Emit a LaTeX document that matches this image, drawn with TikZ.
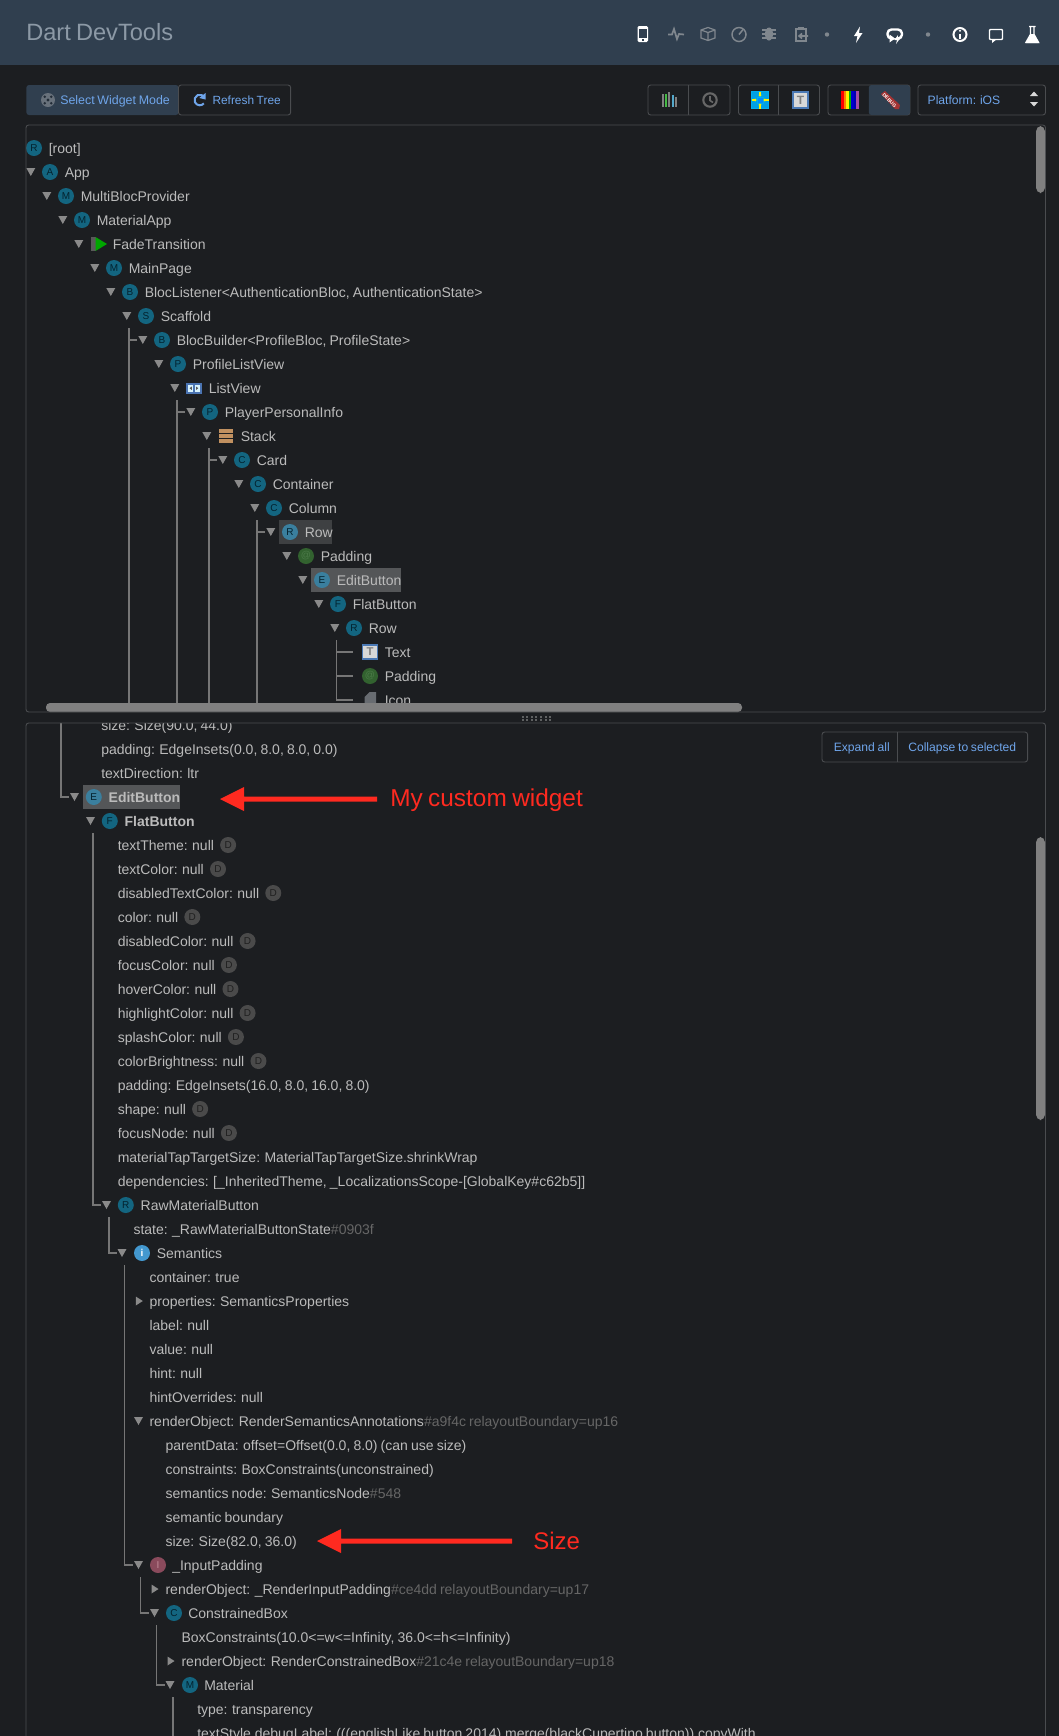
\documentclass[tikz,border=0pt]{standalone}
\usepackage{fontspec}
\setmainfont[WordSpace=0.8]{Liberation Sans}
\usetikzlibrary{calc,positioning}
\definecolor{bgc}{HTML}{1C1E21}
\definecolor{hdr}{HTML}{303F4F}
\definecolor{ttl}{HTML}{8C99A6}
\definecolor{txt}{HTML}{BBBBBB}
\definecolor{dim}{HTML}{666666}
\definecolor{lnk}{HTML}{6FA5EA}
\definecolor{frm}{HTML}{4A4C4F}
\definecolor{line}{HTML}{767676}
\definecolor{tri}{HTML}{8A8A8A}
\definecolor{ico}{HTML}{136580}
\definecolor{icohi}{HTML}{3A7F9E}
\definecolor{icotx}{HTML}{03222E}
\definecolor{grn}{HTML}{32622F}
\definecolor{grntx}{HTML}{4B7A48}
\definecolor{pnk}{HTML}{8A4A5C}
\definecolor{pnktx}{HTML}{C08A98}
\definecolor{sem}{HTML}{4398CF}
\definecolor{tan}{HTML}{C09060}
\definecolor{redc}{HTML}{FF2A20}
\definecolor{bar}{HTML}{808080}
\definecolor{hi}{HTML}{545658}
\definecolor{hib}{HTML}{3E4042}
\definecolor{hicon}{HTML}{D8D8D8}
\definecolor{hicond}{HTML}{80878E}
\definecolor{bdg}{HTML}{4A4A4A}
\definecolor{bdgtx}{HTML}{1F1F1F}
\tikzset{x=0.75pt,y=-0.75pt,
 lab/.style={anchor=base west,inner sep=0pt,yshift=-3.75pt,text=txt,font=\fontsize{10.5pt}{12pt}\selectfont},
 ltr/.style={circle,inner sep=0pt,minimum size=12pt,font=\fontsize{7.5pt}{8pt}\selectfont,text=icotx},
 badge/.style={circle,inner sep=0pt,minimum size=12pt,fill=bdg,text=bdgtx,font=\fontsize{7.5pt}{8pt}\selectfont,anchor=west},
 btn/.style={anchor=base west,inner sep=0pt,yshift=-3.3pt,text=lnk,font=\fontsize{9.1pt}{11pt}\selectfont},
 linev/.style={draw=line,line width=1.1pt},
 frame/.style={draw=frm,line width=0.7pt,rounded corners=2pt},
 arr/.style={fill=redc,draw=none},
 note/.style={anchor=base west,inner sep=0pt,text=redc,font=\fontsize{18pt}{20pt}\selectfont},
 hico/.style={draw=hicon,line width=0.9pt},
 hdim/.style={draw=hicond,line width=0.9pt}
}
\newcommand{\tdown}[2]{\fill[tri] (#1-4.5,#2-4) -- (#1+4.5,#2-4) -- (#1,#2+4) -- cycle;}
\newcommand{\tright}[2]{\fill[tri] (#1-3.5,#2-4.5) -- (#1-3.5,#2+4.5) -- (#1+3.5,#2) -- cycle;}
\newcommand{\uitem}[5]{% depth,row,letter,colour,text
 \pgfmathsetmacro{\ix}{34+16*#1}\pgfmathsetmacro{\iy}{148+24*#2}
 \ifnum#1>0 \tdown{\ix-19.2}{\iy}\fi
 \node[ltr,fill=#4] (u#2i) at (\ix,\iy) {#3};
 \node[lab] (u#2t) at (\ix+14.5,\iy) {#5};}
\newcommand{\ulabel}[3]{%
 \pgfmathsetmacro{\ix}{34+16*#1}\pgfmathsetmacro{\iy}{148+24*#2}
 \node[lab] (u#2t) at (\ix+14.5,\iy) {#3};}
\newcommand{\litem}[5]{% level,k,letter,colour,text
 \pgfmathsetmacro{\ix}{74.5+16*#1}\pgfmathsetmacro{\iy}{797+24*(#2)}
 \tdown{\ix}{\iy}
 \node[ltr,fill=#4] (l#2i) at (\ix+19.3,\iy) {#3};
 \node[lab] (l#2t) at (\ix+33.9,\iy) {#5};}
\newcommand{\lprop}[3]{% x,k,text
 \pgfmathsetmacro{\iy}{797+24*(#2)}
 \node[lab] (l#2t) at (#1,\iy) {#3};}
\newcommand{\lnull}[2]{% k,text
 \lprop{117.5}{#1}{#2}
 \node[badge] (l#1b) at ($(l#1t.base east)+(5.6,-5)$) {D};}
\newcommand{\ltri}[4]{% tri x,k,text x,text
 \pgfmathsetmacro{\iy}{797+24*(#2)}
 \tright{#1}{\iy}
 \node[lab] (l#2t) at (#3,\iy) {#4};}
\newcommand{\dimt}[1]{\textcolor{dim}{#1}}
\newcommand{\gat}{\textcolor{grntx}{@}}
\begin{document}
\begin{tikzpicture}
\useasboundingbox (0,0) rectangle (1059,1736);
\fill[bgc] (0,0) rectangle (1059,1736);
\fill[hdr] (0,0) rectangle (1059,65);
\node[anchor=base west,inner sep=0pt,text=ttl,font=\fontsize{17.7pt}{20pt}\selectfont] (title) at (26,40) {Dart DevTools};
% header icons
\fill[white,rounded corners=1pt] (637.5,26) rectangle (648,42);
\fill[hdr] (639,28.5) rectangle (646.5,37.5);
\fill[hdr] (641.5,39) rectangle (644,41);
\draw[hdim,line width=1.3pt] (668,34.5) -- (672,34.5) -- (674,29) -- (677,39) -- (679,34) -- (684,34.5);
\draw[hdim] (701,30) -- (708,27.5) -- (715,30) -- (715,38) -- (708,40.5) -- (701,38) -- cycle (701,30) -- (708,32.5) -- (715,30) (708,32.5) -- (708,40.5);
\draw[hdim,line width=1.1pt] (739,34.5) circle (7);
\draw[hdim,line width=1.1pt] (739,34.5) -- (743,29.5);
\fill[hicond] (769,34) ellipse (4 and 6.5);
\draw[hdim,line width=0.8pt] (762,30) -- (776,30) (762,34) -- (776,34) (762,38) -- (776,38);
\draw[hdim,line width=1.1pt] (796,29) rectangle (806,41);
\fill[hicond] (798,26.5) rectangle (804,30);
\draw[hdim,line width=1.2pt] (799,36) -- (808,36) (802,33.5) -- (799,36) -- (802,38.5);
\fill[hicond] (827,34.5) circle (2.2);
\fill[white] (860,26.5) -- (854,36) -- (857.5,36) -- (856,43) -- (862.5,33) -- (859,33) -- cycle;
\draw[white,line width=1.8pt,rounded corners=3pt] (891,38.5) -- (887.5,38.5) -- (887.5,29.5) -- (902,29.5) -- (902,38.5) -- (900,38.5);
\fill[white] (889.5,34.5) -- (895,38.5) -- (889.5,42.5) -- cycle;
\fill[white] (898,35) -- (894.5,40) -- (897,40) -- (896,44) -- (900,38.5) -- (897.8,38.5) -- cycle;
\fill[hicond] (928,34.5) circle (2.2);
\draw[white,line width=1.5pt] (960,34.5) circle (6.5);
\fill[white] (959,33.5) rectangle (961,39); \fill[white] (960,30.7) circle (1.1);
\draw[white,line width=1.1pt,rounded corners=0.7pt] (989.5,29.5) rectangle (1002.5,39.5);
\fill[white] (992,39) -- (992,43) -- (997,39) -- cycle;
\fill[white] (1026,43) -- (1038.5,43) -- (1034,34) -- (1030.5,34) -- cycle;
\draw[white,line width=1.1pt] (1029,26.5) -- (1035.5,26.5) (1030.5,27) -- (1030.5,34.5) -- (1026,42.5) -- (1038.5,42.5) -- (1034,34.5) -- (1034,27);
% toolbar left
\fill[hdr,rounded corners=2pt] (26.4,85) rectangle (178.5,115);
\draw[frame] (178.5,85) rectangle (290.7,115);
\fill[hicond!70!hdr] (48,100) circle (7);
\fill[hdr!70!black] (48,100) circle (1.7);
\foreach \a in {45,135,225,315} \fill[hdr!70!black] (48,100)++(\a:4.6) circle (1.3);
\node[btn,font=\fontsize{9.3pt}{11pt}\selectfont] (sel) at (60,100) {Select Widget Mode};
\draw[lnk,line width=1.5pt] (199.8,100) ++(-25:5.3) arc (-25:-320:5.3);
\fill[lnk] (205.5,93) -- (205.5,99.5) -- (199.3,98) -- cycle;
\node[btn,font=\fontsize{8.9pt}{11pt}\selectfont] (ref) at (212.3,100) {Refresh Tree};
% toolbar right
\draw[frame] (648,85) rectangle (730,115); \draw[frm,line width=0.7pt] (688.6,85) -- (688.6,115);
\draw[frame] (738.5,85) rectangle (819.5,115); \draw[frm,line width=0.7pt] (778.6,85) -- (778.6,115);
\draw[frame] (828,85) rectangle (910,115);
\fill[hdr,rounded corners=2pt] (868.8,85) rectangle (910,115);
\draw[frame] (918,85) rectangle (1045.5,115);
% bars icon
\fill[bar] (662,94) rectangle (664,107);
\fill[green!45!gray] (665,94) rectangle (667,107);
\fill[bar] (668,92) rectangle (670,107);
\fill[cyan!60!gray] (672,95) rectangle (674,107);
\fill[bar] (675,97) rectangle (677,107);
\draw[bar!80!black,line width=1.6pt] (710,100) circle (6.7);
\draw[bar!80!black,line width=1.2pt] (710,96) -- (710,100.5) -- (713,102.5);
% constrain icon
\fill[cyan] (751,91) rectangle (769,109);
\fill[blue!30!cyan!90!black] (752,92) rectangle (768,108);
\fill[cyan] (756.5,96.5) rectangle (763.5,103.5);
\fill[blue!45!cyan] (757.5,97.5) rectangle (762.5,102.5);
\draw[yellow,line width=1pt] (760,91.5) -- (760,96) (760,104) -- (760,108.5) (751.5,100) -- (756,100) (764,100) -- (768.5,100);
\foreach \dx/\dy in {0/-4.8,0/4.8,-4.8/0,4.8/0} \fill[yellow] (760+\dx,100+\dy) circle (1.5);
% text icon
\fill[hicon] (793,92) rectangle (808,108);
\draw[cyan!50!blue!70!gray,line width=1pt] (793,92) rectangle (808,108);
\node[inner sep=0pt,text=gray,font=\bfseries\fontsize{9pt}{10pt}\selectfont] (tictop) at (800.5,100) {T};
% rainbow
\foreach \i/\c in {0/red,1/orange,2/yellow,3/green!70!black,4/blue!80!black,5/blue!70!black,6/violet!70!white} \fill[\c] (841+2.5*\i,91) rectangle (843.6+2.5*\i,109);
% debug banner
\fill[red!55!black!80!white] (881,94) -- (885,91) -- (900,105) -- (899,109) -- (895,109) -- cycle;
\node[rotate=-45,inner sep=0pt,text=white,font=\bfseries\fontsize{3.6pt}{4pt}\selectfont] (dbg) at (889.5,100.5) {DEBUG};
\node[btn] (plat) at (927.4,100) {Platform: iOS};
\fill[hicon] (1030,96) -- (1038,96) -- (1034,91.5) -- cycle;
\fill[hicon] (1030,102) -- (1038,102) -- (1034,106.5) -- cycle;
% upper panel
\begin{scope}
\clip (26,125) rectangle (1045.5,712);
\fill[hib] (278.6,520) rectangle (332,544);
\fill[hi] (310.7,568) rectangle (400.6,592);
\draw[linev] (129,328) -- (129,712) (129,340) -- (136.7,340);
\draw[linev] (177,400) -- (177,712) (177,412) -- (185,412);
\draw[linev] (209,448) -- (209,712) (209,460) -- (217,460);
\draw[linev] (257,520) -- (257,712) (257,532) -- (265,532);
\draw[linev] (336.7,640) -- (336.7,700) -- (352.6,700) (336.7,652) -- (352.6,652) (336.7,676) -- (352.6,676);
\uitem{0}{0}{R}{ico}{[root]}
\uitem{1}{1}{A}{ico}{App}
\uitem{2}{2}{M}{ico}{MultiBlocProvider}
\uitem{3}{3}{M}{ico}{MaterialApp}
% FadeTransition
\tdown{78.8}{244}
\fill[gray!70!black] (91,237) rectangle (96,251);
\fill[green!65!black] (95.5,237) -- (107,244) -- (95.5,251) -- cycle;
\ulabel{4}{4}{FadeTransition}
\uitem{5}{5}{M}{ico}{MainPage}
\uitem{6}{6}{B}{ico}{BlocListener<AuthenticationBloc, AuthenticationState>}
\uitem{7}{7}{S}{ico}{Scaffold}
\uitem{8}{8}{B}{ico}{BlocBuilder<ProfileBloc, ProfileState>}
\uitem{9}{9}{P}{ico}{ProfileListView}
% ListView icon
\tdown{174.8}{388}
\fill[cyan!45!blue!70!gray] (186,382.5) rectangle (201.7,394);
\fill[white!85!cyan] (188,384.5) rectangle (192.8,392);
\fill[white!85!cyan] (195,384.5) rectangle (199.8,392);
\fill[gray!70!black] (191.8,386.5) -- (191.8,390) -- (189.5,388.2) -- cycle;
\fill[gray!70!black] (196,386.5) -- (196,390) -- (198.3,388.2) -- cycle;
\ulabel{10}{10}{ListView}
\uitem{11}{11}{P}{ico}{PlayerPersonalInfo}
% Stack icon
\tdown{206.8}{436}
\fill[tan] (219,429) rectangle (232.7,433);
\fill[tan] (219,434.2) rectangle (232.7,438.2);
\fill[tan] (219,439.4) rectangle (232.7,443.4);
\ulabel{12}{12}{Stack}
\uitem{13}{13}{C}{ico}{Card}
\uitem{14}{14}{C}{ico}{Container}
\uitem{15}{15}{C}{ico}{Column}
\uitem{16}{16}{R}{icohi}{Row}
\uitem{17}{17}{\gat}{grn}{Padding}
\uitem{18}{18}{E}{icohi}{EditButton}
\uitem{19}{19}{F}{ico}{FlatButton}
\uitem{20}{20}{R}{ico}{Row}
% Text, Padding, Icon leaves
\fill[hicon] (362.5,645) rectangle (377.5,659);
\draw[cyan!50!blue!70!gray,line width=1pt] (362.5,645) rectangle (377.5,659);
\node[inner sep=0pt,text=gray,font=\bfseries\fontsize{8.5pt}{10pt}\selectfont] (u21i) at (370,652) {T};
\ulabel{21}{21}{Text}
\node[ltr,fill=grn] (u22i) at (370,676) {\gat};
\ulabel{21}{22}{Padding}
\fill[bar!70!hdr] (364.5,697) -- (369.5,692) -- (376,692) -- (376,708) -- (364.5,708) -- cycle;
\ulabel{21}{23}{Icon}
\fill[bar,rounded corners=3pt] (46,703) rectangle (742,712);
\end{scope}
\draw[frame] (26,125) rectangle (1045.5,712);
\fill[bar,rounded corners=4pt] (1036,126) rectangle (1045,193);
% handle
\foreach \i in {0,...,6} {\fill[frm!60!gray] (521.5+4.6*\i,716.2) rectangle (523.5+4.6*\i,717.8); \fill[frm!60!gray] (521.5+4.6*\i,719.2) rectangle (523.5+4.6*\i,720.8);}
% lower panel
\begin{scope}
\clip (26,723) rectangle (1045.5,1736);
\fill[hi] (83,785) rectangle (180,809);
\draw[linev] (61,723) -- (61,797) -- (69,797);
\draw[linev] (93.2,833) -- (93.2,1205) -- (101,1205);
\draw[linev] (109,1217) -- (109,1253) -- (117,1253);
\draw[linev] (124.6,1265) -- (124.6,1565) -- (133,1565);
\draw[linev] (140.6,1577) -- (140.6,1613) -- (149,1613);
\draw[linev] (156.7,1625) -- (156.7,1685) -- (165,1685);
\draw[linev] (172.8,1697) -- (172.8,1740);
\lprop{101}{-3}{size: Size(90.0, 44.0)}
\lprop{101}{-2}{padding: EdgeInsets(0.0, 8.0, 8.0, 0.0)}
\lprop{101}{-1}{textDirection: ltr}
\litem{0}{0}{E}{icohi}{\textbf{EditButton}}
\litem{1}{1}{F}{ico}{\textbf{FlatButton}}
\lnull{2}{textTheme: null}
\lnull{3}{textColor: null}
\lnull{4}{disabledTextColor: null}
\lnull{5}{color: null}
\lnull{6}{disabledColor: null}
\lnull{7}{focusColor: null}
\lnull{8}{hoverColor: null}
\lnull{9}{highlightColor: null}
\lnull{10}{splashColor: null}
\lnull{11}{colorBrightness: null}
\lprop{117.5}{12}{padding: EdgeInsets(16.0, 8.0, 16.0, 8.0)}
\lnull{13}{shape: null}
\lnull{14}{focusNode: null}
\lprop{117.5}{15}{materialTapTargetSize: MaterialTapTargetSize.shrinkWrap}
\lprop{117.5}{16}{dependencies: [\_InheritedTheme, \_LocalizationsScope-[GlobalKey\#c62b5]]}
\litem{2}{17}{R}{ico}{RawMaterialButton}
\lprop{133.3}{18}{state: \_RawMaterialButtonState\dimt{\#0903f}}
% Semantics
\tdown{122}{1253}
\node[ltr,fill=sem,text=white] (l19i) at (142,1253) {\textbf{i}};
\node[lab] (l19t) at (156.5,1253) {Semantics};
\lprop{149.3}{20}{container: true}
\ltri{139.3}{21}{149.3}{properties: SemanticsProperties}
\lprop{149.3}{22}{label: null}
\lprop{149.3}{23}{value: null}
\lprop{149.3}{24}{hint: null}
\lprop{149.3}{25}{hintOverrides: null}
\tdown{138.5}{1421}
\node[lab] (l26t) at (149.3,1421) {renderObject: RenderSemanticsAnnotations\dimt{\#a9f4c relayoutBoundary=up16}};
\lprop{165.3}{27}{parentData: offset=Offset(0.0, 8.0) (can use size)}
\lprop{165.3}{28}{constraints: BoxConstraints(unconstrained)}
\lprop{165.3}{29}{semantics node: SemanticsNode\dimt{\#548}}
\lprop{165.3}{30}{semantic boundary}
\lprop{165.3}{31}{size: Size(82.0, 36.0)}
\tdown{138.5}{1565}
\node[ltr,fill=pnk,text=pnktx] (l32i) at (158,1565) {I};
\node[lab] (l32t) at (172,1565) {\_InputPadding};
\ltri{155}{33}{165.3}{renderObject: \_RenderInputPadding\dimt{\#ce4dd relayoutBoundary=up17}}
\tdown{154.5}{1613}
\node[ltr,fill=ico] (l34i) at (174,1613) {C};
\node[lab] (l34t) at (188,1613) {ConstrainedBox};
\lprop{181.3}{35}{BoxConstraints(10.0<=w<=Infinity, 36.0<=h<=Infinity)}
\ltri{171}{36}{181.3}{renderObject: RenderConstrainedBox\dimt{\#21c4e relayoutBoundary=up18}}
\tdown{170}{1685}
\node[ltr,fill=ico] (l37i) at (190,1685) {M};
\node[lab] (l37t) at (204,1685) {Material};
\lprop{197}{38}{type: transparency}
\lprop{197}{39}{textStyle.debugLabel: (((englishLike button 2014).merge(blackCupertino button)).copyWith}
\end{scope}
\draw[frame] (26,1740) -- (26,723) -- (1045.5,723) -- (1045.5,1740);
\fill[bar,rounded corners=4pt] (1036,837) rectangle (1045,1120);
% expand buttons
\draw[frame] (822,732) rectangle (1027.6,762);
\draw[frm,line width=0.7pt] (897.4,732) -- (897.4,762);
\node[btn] (exp) at (833.5,747) {Expand all};
\node[btn] (col) at (908,747) {Collapse to selected};
% red arrows
\node[note,font=\fontsize{18.3pt}{20pt}\selectfont] (n1) at (390,806) {My custom widget};
\coordinate (a1) at (220,799);
\fill[arr] (a1) -- (244,787) -- (244,796.5) -- (377,796.5) -- (377,801.5) -- (244,801.5) -- (244,811) -- cycle;
\node[note] (n2) at (533,1549) {Size};
\coordinate (a2) at (317,1541);
\fill[arr] (a2) -- (341,1529) -- (341,1538.5) -- (512,1538.5) -- (512,1543.5) -- (341,1543.5) -- (341,1553) -- cycle;
\end{tikzpicture}
\end{document}
